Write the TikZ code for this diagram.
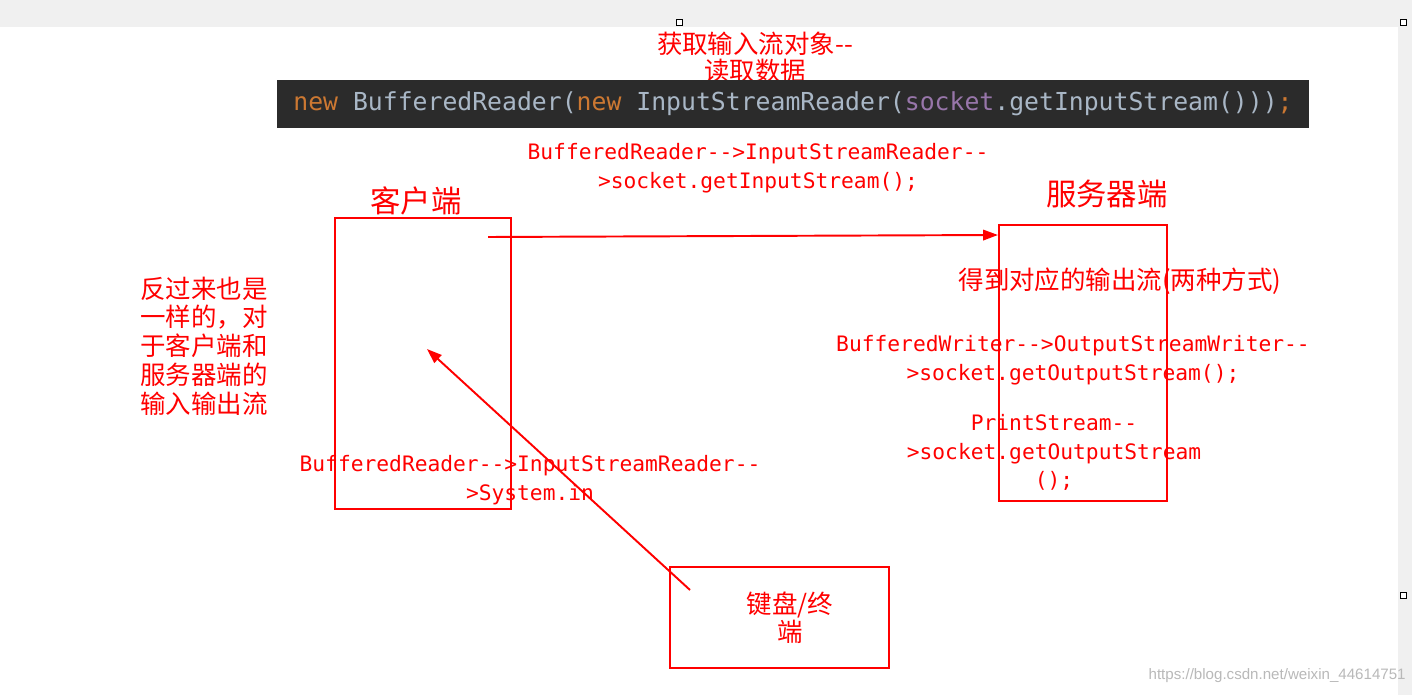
\documentclass[tikz,border=0pt]{standalone}
\usepackage{fontspec}
\setmainfont{Noto Sans CJK SC}
\newfontfamily\codefont{DejaVu Sans Mono}
\newfontfamily\urlfont{Liberation Sans}
\usetikzlibrary{positioning,arrows.meta}
\definecolor{mark}{HTML}{FF0000}
\definecolor{ideabg}{HTML}{2B2B2B}
\definecolor{kwd}{HTML}{CC7832}
\definecolor{plain}{HTML}{A9B7C6}
\definecolor{field}{HTML}{9876AA}
\definecolor{chrome}{HTML}{F0F0F0}

\begin{document}
\begin{tikzpicture}[x=0.02cm, y=-0.02cm, >={Triangle[length=8.5pt,width=6pt]}]
  \tikzstyle{frame}=[draw=mark, line width=1.2pt, inner sep=0pt, text=mark, font=\fontsize{14.5}{16}\selectfont, align=center]
  \tikzstyle{note}=[text=mark, font=\fontsize{14.5}{16.4}\selectfont, align=center, inner sep=0pt]
  \tikzstyle{code}=[text=mark, font=\codefont\fontsize{12.1}{16.4}\selectfont, align=center, inner sep=0pt]
  \tikzstyle{title}=[text=mark, font=\fontsize{17.3}{20}\selectfont, inner sep=0pt]
  \tikzstyle{flow}=[->, draw=mark, line width=1.1pt]
  \tikzstyle{handle}=[draw=black, fill=white, line width=0.5pt, minimum size=3.4pt, inner sep=0pt]
  \useasboundingbox (0,0) rectangle (1412,695);
  \fill[white] (0,0) rectangle (1412,695);
  \fill[chrome] (0,0) rectangle (1412,27);
  \fill[chrome] (1398,27) rectangle (1412,695);
  \node[handle] (h1) at (679,22) {};
  \node[handle] (h2) at (1403,22) {};
  \node[handle] (h3) at (1403,595) {};
  % code line on top
  \node[note, font=\fontsize{14.5}{15.3}\selectfont] (gettitle) at (755,57) {获取输入流对象-{}-\\读取数据};
  \node[fill=ideabg, minimum width=20.64cm, minimum height=0.96cm, inner sep=0pt, text=plain, font=\codefont\fontsize{14.1}{16}\selectfont] (codebar) at (793,104) {\textcolor{kwd}{new} BufferedReader(\textcolor{kwd}{new} InputStreamReader(\textcolor{field}{socket}.getInputStream()))\textcolor{kwd}{;}};
  \node[code] (inpath) at (758,168.5) {BufferedReader-{}->InputStreamReader-{}-\\>socket.getInputStream();};
  % boxes
  \node[frame, minimum width=3.52cm, minimum height=5.82cm] (client) at (423,363.5) {};
  \node[frame, minimum width=3.36cm, minimum height=5.52cm] (server) at (1083,363) {};
  \node[frame, minimum width=4.38cm, minimum height=2.02cm, font=\fontsize{14.5}{15.9}\selectfont] (keyboard) at (779.5,617.5) {\hspace*{12pt}键盘/终\\\hspace*{12pt}端};
  \node[title, above=0.3mm of client, xshift=-1.4mm] (clientlabel) {客户端};
  \node[title, above=3.2mm of server.north east, anchor=south east] (serverlabel) {服务器端};
  % texts
  \node[note, align=left] (mirror) at (204,346) {反过来也是\\一样的，对\\于客户端和\\服务器端的\\输入输出流};
  \node[note] (outtitle) at (1120,281) {得到对应的输出流(两种方式)};
  \node[code] (bwpath) at (1073,360.5) {BufferedWriter-{}->OutputStreamWriter-{}-\\>socket.getOutputStream();};
  \node[code] (pspath) at (1054,452.5) {PrintStream-{}-\\>socket.getOutputStream\\();};
  \node[code] (syspath) at (530,480) {BufferedReader-{}->InputStreamReader-{}-\\>System.in};
  % arrows
  \coordinate (cout) at (488,237);
  \coordinate (kin) at (690,590);
  \coordinate (cin) at (427,349);
  \draw[flow] (cout) -- (server.west |- 0,235);
  \draw[flow] (kin) -- (cin);
  \node[text=gray!55, font=\urlfont\fontsize{8.6}{10}\selectfont, anchor=east, inner sep=0pt] (wm) at (1406,676) {https://blog.csdn.net/weixin\_44614751};
\end{tikzpicture}
\end{document}
